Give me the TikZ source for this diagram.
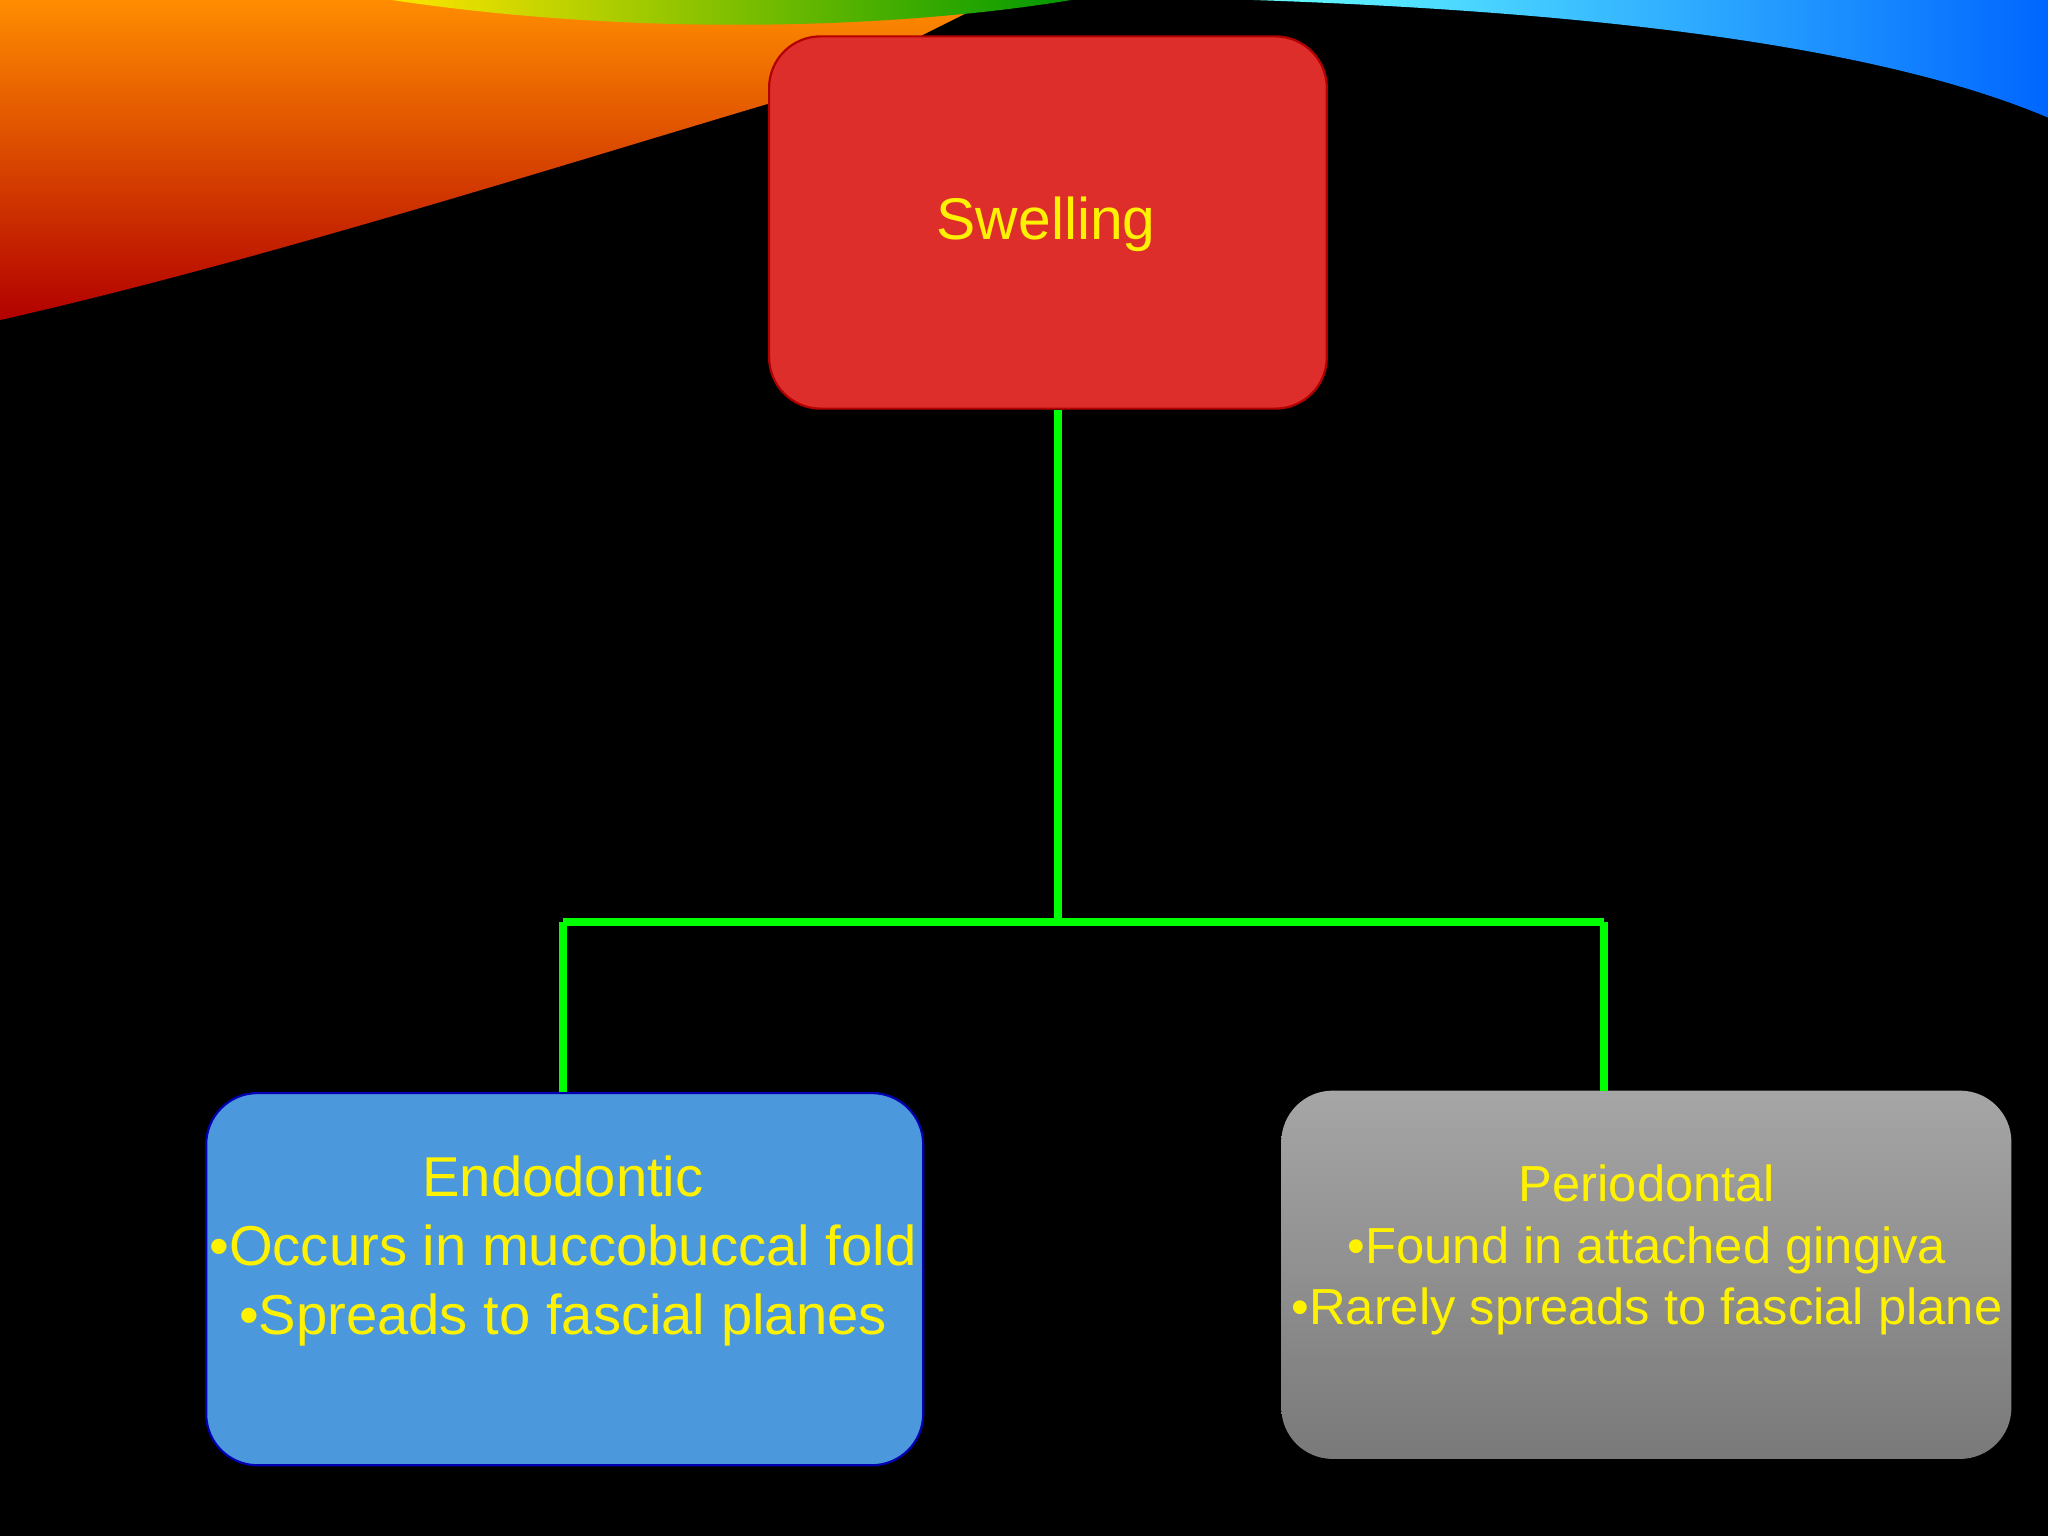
\documentclass[tikz,border=0pt]{standalone}
\usepackage{fontspec}
\setmainfont{Liberation Sans}
\begin{document}
\begin{tikzpicture}[x=0.0125cm,y=-0.0125cm,
  box/.style={rounded corners=14pt,draw=#1!70!black,line width=0.6pt},
  lbl/.style={text=yellow,align=center},
  conn/.style={draw=green,line width=2.2pt}]
\fill[black] (0,0) rectangle (1568,1176);
% decorative swooshes
\shade[top color=orange!90!yellow,bottom color=red!70!black] (0,245) .. controls (200,200) and (450,120) .. (620,70) -- (760,0) -- (0,0) -- cycle;
\shade[left color=yellow!80!orange,right color=green!60!black] (300,0) .. controls (500,30) and (700,20) .. (820,0) -- cycle;
\shade[left color=cyan!60!white,right color=cyan!40!blue] (960,0) .. controls (1250,10) and (1450,40) .. (1568,90) -- (1568,0) -- cycle;
% boxes
\node[box=red,fill={rgb,255:red,222;green,46;blue,44},minimum width=427*0.0125cm,minimum height=285*0.0125cm,anchor=north west] (s) at (588,27) {};
\node[lbl,font=\fontsize{16}{19}\selectfont] (st) at (801,172) {Swelling};
\node[box=blue,fill={rgb,255:red,76;green,152;blue,220},minimum width=549*0.0125cm,minimum height=285*0.0125cm,anchor=north west] (e) at (157,836) {};
\node[lbl,font=\fontsize{15.3}{18.8}\selectfont] (et) at (431,958) {Endodontic\\•Occurs in muccobuccal fold\\•Spreads to fascial planes};
\shade[rounded corners=14pt,top color=gray!70,bottom color=gray!95!black] (981,835) rectangle (1540,1117);
\node[minimum width=559*0.0125cm,minimum height=282*0.0125cm,anchor=north west] (p) at (981,835) {};
\node[lbl,font=\fontsize{13.8}{16.8}\selectfont] (pt) at (1261,957) {Periodontal\\•Found in attached gingiva\\•Rarely spreads to fascial plane};
% connectors
\coordinate (j) at (810,706);
\coordinate (jl) at (431,706);
\coordinate (jr) at (1228,706);
\draw[conn] (s.south -| j) -- (j);
\draw[conn] (jl) -- (jr);
\draw[conn] (jl) -- (jl |- e.north);
\draw[conn] (jr) -- (jr |- p.north);
\end{tikzpicture}
\end{document}
